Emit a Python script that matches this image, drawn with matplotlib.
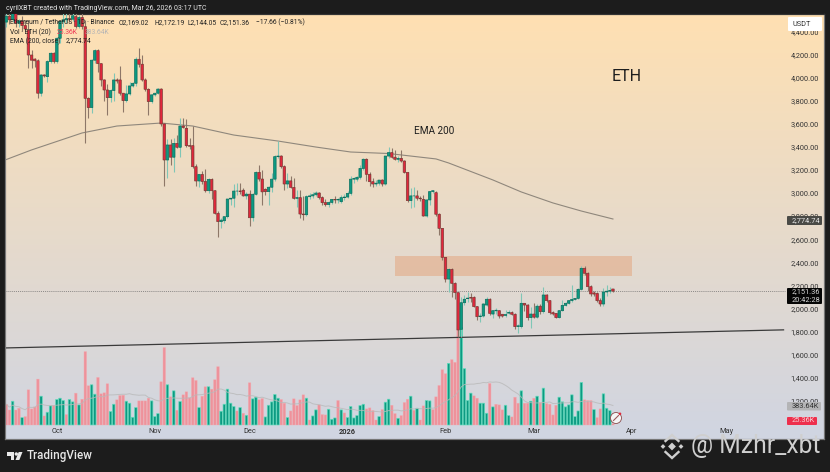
import numpy as np
import pandas as pd
import matplotlib
matplotlib.use('Agg')
import matplotlib.pyplot as plt
import matplotlib.dates as mdates
from matplotlib.patches import Polygon, Circle, Rectangle, FancyBboxPatch

plt.rcParams['font.family'] = ['Roboto', 'DejaVu Sans']

# Daily candles, 15 Sep 2025 to 26 Mar 2026
opens = [4480, 4530, 4500, 4560, 4470, 4490, 4450, 4410, 4195, 4160,
         4145, 3864, 4022, 4008, 4138, 4210, 4138, 4340, 4484, 4500,
         4510, 4505, 4528, 4441, 4520, 4440, 3820, 3740, 4150, 4233,
         4120, 3979, 3892, 3826, 3887, 3979, 3979, 3864, 3800, 3858,
         3927, 3950, 4158, 4115, 3979, 3898, 3792, 3850, 3864, 3900,
         3598, 3286, 3416, 3310, 3430, 3396, 3580, 3560, 3410, 3410,
         3228, 3104, 3161, 3100, 3020, 3118, 3020, 2824, 2752, 2760,
         2795, 2948, 2955, 3017, 3017, 3024, 2975, 2990, 2786, 2989,
         3179, 3121, 3032, 3012, 3050, 3120, 3315, 3320, 3228, 3078,
         3105, 3049, 2954, 2960, 2818, 2812, 2968, 2975, 2985, 3000,
         2960, 2917, 2900, 2918, 2945, 2940, 2925, 2960, 2965, 2997,
         3120, 3120, 3136, 3213, 3292, 3162, 3098, 3078, 3085, 3112,
         3078, 3320, 3350, 3310, 3292, 3300, 3277, 3179, 2934, 2975,
         2975, 2955, 2945, 2801, 2940, 3012, 3003, 2816, 2694, 2443,
         2255, 2339, 2218, 2137, 1820, 2050, 2087, 2095, 2097, 2016,
         1930, 1935, 2030, 2080, 1952, 1980, 1981, 1950, 1940, 1960,
         1965, 1950, 1845, 1843, 2045, 2030, 1921, 1952, 1925, 2020,
         1973, 2117, 2068, 1964, 1958, 1921, 1981, 2027, 2045, 2068,
         2079, 2088, 2166, 2348, 2305, 2189, 2135, 2130, 2068, 2039,
         2143, 2150, 2169]
highs = [4560, 4570, 4590, 4600, 4510, 4530, 4500, 4500, 4240, 4170,
         4160, 4030, 4030, 4150, 4220, 4225, 4350, 4500, 4560, 4600,
         4600, 4600, 4570, 4540, 4700, 4500, 3830, 4160, 4245, 4250,
         4130, 3990, 3940, 3900, 4040, 4000, 4100, 3870, 3935, 3960,
         3960, 4175, 4253, 4195, 4000, 3905, 3860, 3870, 3905, 3905,
         3610, 3470, 3470, 3480, 3500, 3650, 3650, 3640, 3480, 3580,
         3250, 3160, 3190, 3210, 3130, 3130, 3030, 2840, 2780, 2790,
         2950, 2960, 3080, 3090, 3090, 3045, 3010, 3030, 3000, 3190,
         3240, 3200, 3040, 3060, 3170, 3330, 3450, 3325, 3240, 3170,
         3150, 3130, 3030, 3030, 2970, 2980, 3000, 3010, 3020, 3010,
         2975, 2950, 2935, 2945, 2975, 2960, 2980, 2990, 3020, 3150,
         3140, 3150, 3240, 3300, 3300, 3180, 3130, 3110, 3110, 3120,
         3320, 3400, 3390, 3370, 3320, 3370, 3290, 3185, 3040, 3050,
         3030, 2970, 2980, 2950, 3020, 3030, 3020, 2830, 2700, 2450,
         2350, 2350, 2230, 2145, 2100, 2115, 2140, 2135, 2110, 2020,
         1960, 2050, 2100, 2095, 1990, 2000, 1990, 1955, 1990, 1985,
         1975, 1960, 1870, 2130, 2050, 2040, 2010, 2050, 2040, 2040,
         2190, 2125, 2075, 1975, 1965, 1990, 2070, 2060, 2075, 2200,
         2095, 2180, 2370, 2370, 2315, 2200, 2150, 2140, 2090, 2180,
         2200, 2190, 2172]
lows = [4440, 4460, 4480, 4440, 4440, 4400, 4400, 4080, 4080, 4095,
        3820, 3840, 4005, 3965, 4130, 4125, 4125, 4300, 4440, 4470,
        4480, 4490, 4430, 4430, 4420, 3430, 3647, 3690, 4130, 4050,
        3930, 3800, 3676, 3790, 3800, 3950, 3850, 3705, 3790, 3850,
        3920, 3930, 4090, 3970, 3880, 3676, 3780, 3840, 3860, 3580,
        3060, 3130, 3240, 3185, 3390, 3310, 3560, 3400, 3380, 3220,
        3060, 3050, 3080, 3010, 3000, 2950, 2820, 2615, 2700, 2740,
        2785, 2900, 2880, 2980, 2990, 2970, 2950, 2710, 2760, 2980,
        3100, 2900, 2980, 2900, 3010, 3100, 3300, 3220, 3030, 3040,
        3040, 2950, 2880, 2780, 2770, 2800, 2950, 2960, 2970, 2950,
        2900, 2890, 2880, 2905, 2910, 2915, 2910, 2940, 2955, 2985,
        3090, 3100, 3120, 3200, 3100, 3060, 3050, 3060, 3070, 3060,
        3070, 3300, 3300, 3290, 3270, 3270, 3170, 2920, 2870, 2880,
        2940, 2930, 2800, 2790, 2900, 3000, 2800, 2640, 2420, 2230,
        2140, 2100, 2080, 1750, 1750, 2030, 2060, 2060, 2010, 1900,
        1885, 1925, 2025, 1940, 1920, 1955, 1920, 1925, 1930, 1950,
        1940, 1820, 1790, 1830, 1980, 1900, 1830, 1915, 1920, 1955,
        1960, 2060, 1950, 1940, 1915, 1915, 1975, 2020, 2040, 2060,
        2070, 2080, 2160, 2290, 2150, 2110, 2110, 2055, 2020, 2020,
        2110, 2135, 2144]
closes = [4530, 4500, 4560, 4470, 4490, 4450, 4420, 4195, 4150, 4145,
          3864, 4022, 4014, 4138, 4210, 4138, 4340, 4484, 4500, 4510,
          4505, 4535, 4441, 4520, 4441, 3820, 3740, 4150, 4233, 4120,
          3979, 3892, 3826, 3887, 3979, 3970, 3864, 3800, 3858, 3927,
          3950, 4158, 4115, 3979, 3898, 3792, 3850, 3864, 3900, 3598,
          3286, 3416, 3310, 3430, 3396, 3580, 3568, 3410, 3405, 3228,
          3104, 3161, 3100, 3020, 3118, 3020, 2824, 2752, 2765, 2795,
          2948, 2955, 3017, 3017, 3015, 2975, 2990, 2786, 2989, 3179,
          3121, 3010, 3012, 3050, 3120, 3315, 3320, 3228, 3078, 3105,
          3049, 2954, 2960, 2818, 2812, 2968, 2975, 2985, 3000, 2960,
          2917, 2900, 2918, 2945, 2940, 2945, 2960, 2965, 2997, 3120,
          3125, 3136, 3213, 3292, 3162, 3098, 3078, 3085, 3112, 3078,
          3320, 3350, 3310, 3292, 3300, 3277, 3179, 2934, 2975, 2975,
          2955, 2950, 2801, 2940, 3012, 3020, 2816, 2694, 2443, 2255,
          2339, 2218, 2137, 1814, 2050, 2080, 2090, 2090, 2016, 1929,
          1935, 2039, 2080, 1958, 1981, 1985, 1935, 1935, 1948, 1965,
          1950, 1843, 1850, 2045, 2030, 1921, 1952, 1925, 2020, 1973,
          2117, 2068, 1964, 1953, 1921, 1981, 2027, 2045, 2068, 2079,
          2088, 2166, 2348, 2305, 2189, 2126, 2125, 2068, 2039, 2143,
          2150, 2155, 2151]

# Volume in thousands, r = down day, g = up day
volumes = [415, 300, 475, 300, 335, 147, 167, 703, 322, 362,
           918, 576, 181, 255, 382, 389, 509, 536, 489, 208,
           509, 462, 637, 402, 516, 1467, 784, 804, 616, 951,
           623, 643, 824, 268, 415, 503, 590, 596, 476, 436,
           154, 348, 482, 482, 482, 536, 482, 168, 228, 864,
           1548, 804, 563, 683, 295, 469, 603, 663, 543, 945,
           891, 348, 576, 764, 764, 717, 905, 1166, 275, 415,
           717, 436, 369, 281, 348, 235, 194, 844, 523, 556,
           503, 529, 161, 395, 462, 610, 536, 509, 436, 147,
           281, 523, 389, 503, 603, 536, 100, 181, 302, 402,
           208, 201, 315, 114, 141, 489, 302, 241, 147, 369,
           141, 188, 389, 415, 322, 342, 288, 100, 168, 308,
           456, 516, 395, 228, 134, 188, 449, 516, 576, 295,
           335, 100, 382, 489, 482, 308, 563, 791, 1106, 1025,
           1233, 1307, 1253, 1900, 1950, 1126, 489, 637, 583, 536,
           436, 436, 235, 831, 362, 415, 402, 302, 395, 188,
           161, 556, 436, 683, 436, 436, 476, 536, 576, 449,
           737, 429, 415, 201, 395, 556, 462, 362, 402, 603,
           168, 281, 851, 503, 489, 489, 308, 147, 322, 623,
           335, 288, 25]
vol_side = ("rrgrrgrrrr" "rgrggrgggr" "ggrgrrrggr" "rrrggrrrgg" "ggrrrrgggr"
            "rgrgrgrrrr" "rgrrgrrrgg" "gggrgrgrgg" "rrgggggrrg" "rrrrrgrggr"
            "rrgggrgrgg" "ggggrrrrgr" "ggrrgrrrgr" "grrggrrrrr" "grrrggggrr"
            "gggrgrrrgg" "rrrgrrgrgr" "grrrrggggg" "gggrrrgrrg" "ggr")

# EMA 200, read at a few dates
ema_dates = ['2025-09-15', '2025-09-23', '2025-10-09', '2025-10-20', '2025-11-03',
             '2025-11-13', '2025-11-26', '2025-12-10', '2025-12-22', '2026-01-02',
             '2026-01-14', '2026-01-29', '2026-02-02', '2026-02-16', '2026-02-25',
             '2026-03-07', '2026-03-16', '2026-03-26']
ema_values = [3290, 3373, 3520, 3580, 3606, 3580, 3502, 3450, 3398, 3355,
              3342, 3295, 3260, 3113, 3009, 2914, 2844, 2775]

trend_dates = ['2025-09-14', '2026-05-19']
trend_values = [1658, 1815]
zone_dates = ['2026-01-16', '2026-04-01']
zone_prices = [2281, 2455]
last_price = 2151.36

price_ticks = [1200, 1400, 1600, 1800, 2000, 2200, 2400, 2600, 2800, 3000,
               3200, 3400, 3600, 3800, 4000, 4200, 4400]
month_ticks = ['2025-10-01', '2025-11-01', '2025-12-01', '2026-01-01',
               '2026-02-01', '2026-03-01', '2026-04-01', '2026-05-01']
month_labels = ['Oct', 'Nov', 'Dec', '2026', 'Feb', 'Mar', 'Apr', 'May']

RED = '#e2273c'
GREEN = '#0b9a82'

dates = mdates.date2num(pd.date_range('2025-09-15', periods=len(opens)))
o = np.array(opens, dtype=float)
h = np.array(highs, dtype=float)
l = np.array(lows, dtype=float)
c = np.array(closes, dtype=float)
up = c >= o

fig = plt.figure(figsize=(8.3, 4.72), dpi=100, facecolor='#1c1c1c')
ax_vol = fig.add_axes([5 / 830, 33 / 472, 819 / 830, 425 / 472])
ax = ax_vol.twinx()
ax_vol.set_zorder(0)
ax.set_zorder(1)
ax.patch.set_visible(False)

# background gradient
top = np.array([255, 224, 178]) / 255
bottom = np.array([208, 213, 226]) / 255
grad = np.linspace(top, bottom, 256)[:, None, :]
ax_vol.imshow(grad, extent=[0, 1, 0, 1], transform=ax_vol.transAxes, aspect='auto', zorder=0)

# volume, no snapping so the bars keep the soft look of the screenshot
vol_up = np.array([s == 'g' for s in vol_side])
vols = np.array(volumes, dtype=float)
ax_vol.bar(dates[~vol_up], vols[~vol_up], width=0.8, color='#ee929b', edgecolor='#f4aab0',
           linewidth=0.3, zorder=2, snap=False)
ax_vol.bar(dates[vol_up], vols[vol_up], width=0.8, color='#0c9a82', edgecolor='#62dcbc',
           linewidth=0.5, zorder=2, snap=False)
vol_ma = pd.Series(vols).rolling(20, min_periods=1).mean()
ax_vol.plot(dates, vol_ma, color='#b9b9b9', linewidth=0.7, alpha=0.8, zorder=3)
ax_vol.set_xlim(dates[0] - 0.41, dates[0] + 258.8)
ax_vol.set_ylim(-280, 8220)
ax_vol.set_yticks([])

# resistance zone, trend line, last price line
zx = mdates.date2num(pd.to_datetime(zone_dates))
ax.add_patch(Rectangle((zx[0], zone_prices[0]), zx[1] - zx[0], zone_prices[1] - zone_prices[0],
                       facecolor='#e3b99c', edgecolor='none', alpha=0.85, zorder=1))
ax.plot(mdates.date2num(pd.to_datetime(trend_dates)), trend_values, color='#3a3a3a', linewidth=0.9, zorder=2)
ax.plot([dates[0] - 0.41, dates[0] + 246.5], [last_price, last_price], color='#6d6d6d',
        linewidth=0.5, linestyle=(0, (1.5, 1.5)), zorder=2)
ax.plot(mdates.date2num(pd.to_datetime(ema_dates)), ema_values, color='#8f877c', linewidth=0.8, zorder=2)

# candles
wick_colors = np.where(up, '#7fc6b6', '#8d7768')
ax.vlines(dates, l, h, colors=wick_colors, linewidth=0.8, zorder=3)
ax.bar(dates, np.abs(c - o), bottom=np.minimum(o, c), width=0.78,
       color=np.where(up, GREEN, RED), edgecolor=np.where(up, '#0b6f5e', '#7c3a36'),
       linewidth=0.5, zorder=4, snap=False)

ax.set_xlim(dates[0] - 0.41, dates[0] + 258.8)
ax.set_ylim(870, 4550)

# ticks live inside the plot
ax.yaxis.tick_right()
ax.set_yticks(price_ticks)
ax.set_yticklabels([f'{p:,.2f}' for p in price_ticks], fontsize=5.3, color='#333333')
ax.tick_params(axis='y', length=0, pad=-24)
ax_vol.set_xticks(mdates.date2num(pd.to_datetime(month_ticks)))
ax_vol.set_xticklabels(month_labels, fontsize=5.3, color='#333333')
ax_vol.tick_params(axis='x', length=0, pad=-8)
for lab in ax_vol.get_xticklabels():
    if lab.get_text() == '2026':
        lab.set_fontweight('bold')
ax.tick_params(axis='x', bottom=False, labelbottom=False)
for a in (ax, ax_vol):
    for side, spine in a.spines.items():
        spine.set_color('#777777' if side != 'top' else '#333333')
        spine.set_linewidth(0.8)

# everything that is not data goes on a pixel overlay
ov = fig.add_axes([0, 0, 1, 1], facecolor='none')
ov.set_xlim(0, 830)
ov.set_ylim(472, 0)
ov.axis('off')
ov.set_zorder(5)

ov.text(6, 8, 'cyrilXBT created with TradingView.com, Mar 26, 2026 03:17 UTC',
        fontsize=5.05, color='#e6e6e6', va='center')

dark = '#222222'
for x, txt in [(10, 'Ethereum / TetherUS · 1D · Binance'), (119, 'O2,169.02'), (154, 'H2,172.19'),
               (187, 'L2,144.05'), (220, 'C2,151.36'), (256, '−17.66 (−0.81%)')]:
    ov.text(x, 22.5, txt, fontsize=4.9, color=dark, va='center')
ov.text(10, 32, 'Vol · ETH (20)', fontsize=4.9, color=dark, va='center')
ov.text(57, 32, '25.36K', fontsize=4.9, color='#ee3a55', va='center')
ov.text(85, 32, '383.64K', fontsize=4.9, color='#b5b5b5', va='center')
ov.text(10, 41, 'EMA (200, close)', fontsize=4.9, color=dark, va='center')
ov.text(66, 41, '2,774.74', fontsize=4.9, color=dark, va='center')

ov.text(414, 130.5, 'EMA 200', fontsize=7.2, color='#1e1e1e', va='center')
ov.text(612, 76.5, 'ETH', fontsize=11.5, color='#1e1e1e', va='center')


def tag(x0, y0, x1, y1, face, lines, color='white'):
    ov.add_patch(FancyBboxPatch((x0 + 1, y0 + 1), x1 - x0 - 2, y1 - y0 - 2,
                                boxstyle='round,pad=1', facecolor=face, edgecolor='none'))
    step = (y1 - y0) / len(lines)
    for n, t in enumerate(lines):
        ov.text(x0 + 4.5, y0 + step * (n + 0.5), t, fontsize=5.3, color=color, va='center')


tag(788, 17, 822, 31, 'white', ['USDT'], '#333333')
tag(787, 216, 822, 225, '#4a4a46', ['2,774.74'], '#e8e8e8')
tag(787, 288, 822, 304, '#050505', ['2,151.36', '20:42:28'], '#d8d8d8')
tag(787, 402, 821, 410.5, '#b4b4b6', ['383.64K'], '#333333')
tag(787, 417, 817, 425, '#ee2f4c', ['25.36K'], '#f5d0d5')

# replay badge on the last bar
ov.add_patch(Circle((616, 418), 5.5, facecolor='#f5f5f5', edgecolor='#8a4a4a', linewidth=0.6))
ov.plot([613.5, 618.5], [420.5, 415.5], color='#9a5a5a', linewidth=0.8)
ov.add_patch(Circle((620, 413.8), 1.3, facecolor='#e02a3c', edgecolor='none'))

# TradingView logo
logo = '#e8e8e8'
ov.add_patch(Polygon([(7, 452), (14, 452), (14, 460), (10.5, 460), (10.5, 455.5), (7, 455.5)], facecolor=logo))
ov.add_patch(Circle((16.3, 454), 1.7, facecolor=logo))
ov.add_patch(Polygon([(22.5, 452), (19.3, 460), (15.5, 460), (18.7, 452)], facecolor=logo))
ov.text(26.5, 456, 'TradingView', fontsize=8.4, color=logo, va='center', fontweight='medium')

# watermark
wm = '#cfcfcf'
ov.scatter([672, 663, 681], [446.5, 446.5, 446.5], marker='D', s=[16, 6, 6], color=wm, linewidths=0)
ov.plot([665.5, 672, 678.5], [441, 435, 441], color=wm, linewidth=1.7, solid_joinstyle='miter')
ov.plot([665.5, 672, 678.5], [452, 458, 452], color=wm, linewidth=1.7, solid_joinstyle='miter')
ov.text(691, 446, '@ Mzhr_xbt', fontsize=17.7, color=wm, va='center')

fig.savefig('out.png', dpi=100, facecolor=fig.get_facecolor())
